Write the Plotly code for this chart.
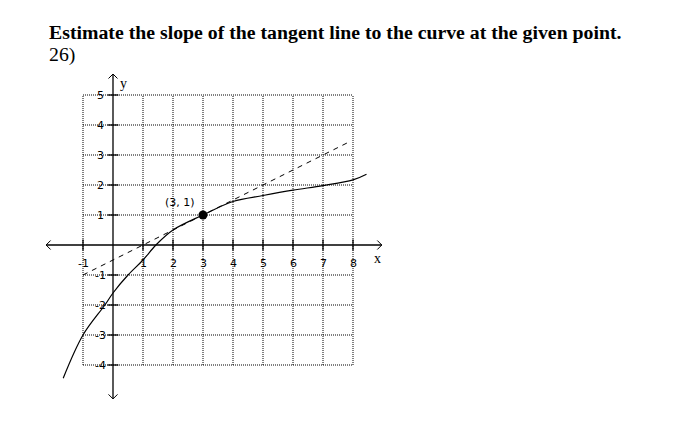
import plotly.graph_objects as go

PAGE_MARGIN = 8  # browser body margin around the plot div
W, H = 686 - 2 * PAGE_MARGIN, 431 - 2 * PAGE_MARGIN
UNIT = 30.0
ORIGIN_PX = (113.0 - PAGE_MARGIN, 245.0 - PAGE_MARGIN)

# values
grid_x = [-1, 0, 1, 2, 3, 4, 5, 6, 7, 8]
grid_y = [-4, -3, -2, -1, 0, 1, 2, 3, 4, 5]
x_tick_labels = ["-1", "1", "2", "3", "4", "5", "6", "7", "8"]
x_tick_values = [-1, 1, 2, 3, 4, 5, 6, 7, 8]
y_tick_labels = ["-4", "-3", "-2", "-1", "1", "2", "3", "4", "5"]
y_tick_values = [-4, -3, -2, -1, 1, 2, 3, 4, 5]

curve_x = [-1.66, -1.0, -0.27, 0.0, 0.5, 1.0, 1.43, 2.0, 3.0, 4.0, 5.0, 6.0, 7.0, 8.0, 8.45]
curve_y = [-4.44, -3.0, -2.0, -1.6, -1.0, -0.5, 0.0, 0.5, 1.0, 1.45, 1.65, 1.83, 1.98, 2.17, 2.36]

tangent_x = [-1.0, 7.8]
tangent_y = [-1.0, 3.4]

point_x = [3]
point_y = [1]
point_label = "(3, 1)"

x_axis_ends = [-2.23, 8.96]
y_axis_ends = [-5.13, 5.7]

# axis ranges so that one unit is UNIT pixels and the origin sits where the picture has it
x_range = [-ORIGIN_PX[0] / UNIT, (W - ORIGIN_PX[0]) / UNIT]
y_range = [(ORIGIN_PX[1] - H) / UNIT, ORIGIN_PX[1] / UNIT]

fig = go.Figure()

shapes = []
grid_line = dict(color="black", width=1, dash="1px,1px")
for gx in grid_x:
    if gx == 0:
        continue
    shapes.append(dict(type="line", xref="x", yref="y", x0=gx, x1=gx,
                       y0=grid_y[0], y1=grid_y[-1], line=grid_line, layer="below"))
for gy in grid_y:
    if gy == 0:
        continue
    shapes.append(dict(type="line", xref="x", yref="y", x0=grid_x[0], x1=grid_x[-1],
                       y0=gy, y1=gy, line=grid_line, layer="below"))

axis_line = dict(color="black", width=1.3)
shapes.append(dict(type="line", xref="x", yref="y", x0=x_axis_ends[0], x1=x_axis_ends[1],
                   y0=0, y1=0, line=axis_line))
shapes.append(dict(type="line", xref="x", yref="y", x0=0, x1=0,
                   y0=y_axis_ends[0], y1=y_axis_ends[1], line=axis_line))

# open chevron arrow heads
a = 0.15
heads = [
    (x_axis_ends[0], 0, a, a), (x_axis_ends[0], 0, a, -a),
    (x_axis_ends[1], 0, -a, a), (x_axis_ends[1], 0, -a, -a),
    (0, y_axis_ends[1], a, -a), (0, y_axis_ends[1], -a, -a),
    (0, y_axis_ends[0], a, a), (0, y_axis_ends[0], -a, a),
]
for hx, hy, dx, dy in heads:
    shapes.append(dict(type="line", xref="x", yref="y", x0=hx, y0=hy,
                       x1=hx + dx, y1=hy + dy, line=dict(color="black", width=1)))

# tick marks
t = 0.18
for tx in x_tick_values:
    shapes.append(dict(type="line", xref="x", yref="y", x0=tx, x1=tx, y0=-t, y1=t,
                       line=dict(color="black", width=1.3)))
for ty in y_tick_values:
    shapes.append(dict(type="line", xref="x", yref="y", x0=-t, x1=t, y0=ty, y1=ty,
                       line=dict(color="black", width=1.3)))

fig.add_trace(go.Scatter(x=tangent_x, y=tangent_y, mode="lines",
                         line=dict(color="black", width=1, dash="5px,5px"),
                         hoverinfo="skip"))
fig.add_trace(go.Scatter(x=curve_x, y=curve_y, mode="lines",
                         line=dict(color="black", width=1.2, shape="spline", smoothing=1.0),
                         hoverinfo="skip"))
fig.add_trace(go.Scatter(x=point_x, y=point_y, mode="markers",
                         marker=dict(color="black", size=9), hoverinfo="skip"))

tick_font = dict(family="DejaVu Sans", size=11, color="black")
annotations = []
for label, tx in zip(x_tick_labels, x_tick_values):
    annotations.append(dict(x=tx, y=-0.6, xref="x", yref="y", text=label,
                            showarrow=False, font=tick_font))
for label, ty in zip(y_tick_labels, y_tick_values):
    annotations.append(dict(x=-0.43, y=ty, xref="x", yref="y", text=label,
                            showarrow=False, font=tick_font))
annotations.append(dict(x=2.23, y=1.43, xref="x", yref="y", text=point_label,
                        showarrow=False, font=tick_font))
annotations.append(dict(x=0.35, y=5.4, xref="x", yref="y", text="y", showarrow=False,
                        font=dict(family="Liberation Serif", size=14, color="black")))
annotations.append(dict(x=8.8, y=-0.45, xref="x", yref="y", text="x", showarrow=False,
                        font=dict(family="Liberation Serif", size=14, color="black")))

annotations.append(dict(x=(47 - PAGE_MARGIN) / W, y=1 - (32 - PAGE_MARGIN) / H,
                        xref="paper", yref="paper",
                        xanchor="left", yanchor="middle", showarrow=False,
                        text="<b>Estimate the slope of the tangent line to the curve at the given point.</b>",
                        font=dict(family="Liberation Serif", size=19.8, color="black")))
annotations.append(dict(x=(47 - PAGE_MARGIN) / W, y=1 - (55 - PAGE_MARGIN) / H,
                        xref="paper", yref="paper",
                        xanchor="left", yanchor="middle", showarrow=False, text="26)",
                        font=dict(family="Liberation Serif", size=19.8, color="black")))

fig.update_layout(
    width=W, height=H,
    margin=dict(l=0, r=0, t=0, b=0),
    paper_bgcolor="white", plot_bgcolor="white",
    showlegend=False,
    xaxis=dict(range=x_range, visible=False, fixedrange=True),
    yaxis=dict(range=y_range, visible=False, fixedrange=True),
    shapes=shapes,
    annotations=annotations,
)

fig.write_html("out.html")
